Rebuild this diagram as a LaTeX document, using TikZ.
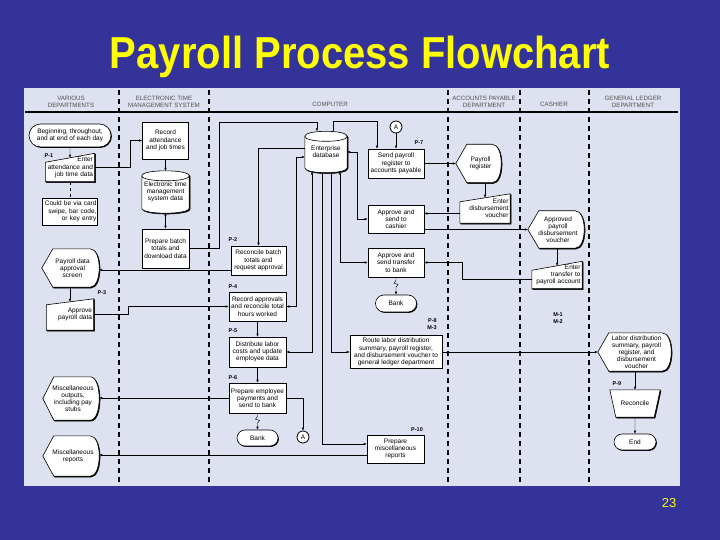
\documentclass[tikz,border=0pt]{standalone}
\usepackage{graphicx}
\usepackage{fontspec}
\setmainfont{Liberation Sans}
\usetikzlibrary{arrows.meta,shapes.misc,shadows,calc}

\pgfdeclarelayer{panel}
\pgfdeclarelayer{outline}
\pgfsetlayers{panel,outline,main}

\definecolor{slideblue}{RGB}{51,51,153}
\definecolor{panelgray}{RGB}{222,226,240}
\definecolor{hdrgray}{RGB}{80,80,80}
\definecolor{titleyellow}{RGB}{255,255,0}

\newcommand\boxfont{\fontsize{6.5}{7.2}\selectfont}
\newcommand\hdrfont{\fontsize{6.2}{7}\selectfont}
\newcommand\tagfont{\fontsize{5.5}{7}\selectfont\bfseries}

\tikzset{
  lane/.style={line width=1.3pt, dash pattern=on 5pt off 4pt},
  blackshadow/.style={drop shadow={shadow xshift=0.9pt, shadow yshift=-0.9pt, fill=black, opacity=1}},
  proc/.style={draw, fill=white, line width=0.6pt, blackshadow, align=center, font=\boxfont, inner sep=1pt},
  term/.style={proc, rounded rectangle},
  shapetext/.style={align=center, font=\boxfont, inner sep=1pt},
  manin/.style={shapetext, align=right},
  outl/.style={fill=white, line width=0.6pt, preaction={fill=black, draw=black, transform canvas={shift={(0.9pt,-0.9pt)}}}},
  flow/.style={line width=0.4pt, -{Latex[length=3pt,width=2.4pt]}},
  twoway/.style={line width=0.4pt, {Latex[length=3pt,width=2.4pt]}-{Latex[length=3pt,width=2.4pt]}},
  tag/.style={font=\tagfont, inner sep=0pt},
  hdr/.style={font=\hdrfont, text=hdrgray, align=center},
  conn/.style={circle, draw, fill=white, line width=0.8pt, font=\boxfont, inner sep=0pt, minimum size=12pt},
}

% outlines drawn under the text of a node
\newcommand\dispframe[1]{\begin{pgfonlayer}{outline}
  \draw[outl] ([xshift=-4pt]#1.west) -- ([xshift=7pt]#1.north west) -- ([xshift=-9pt]#1.north east)
    .. controls ([xshift=3pt]#1.north east) and ([xshift=3pt]#1.south east) .. ([xshift=-9pt]#1.south east)
    -- ([xshift=7pt]#1.south west) -- cycle;
\end{pgfonlayer}}
\newcommand\maninframe[2]{\begin{pgfonlayer}{outline}
  \draw[outl] (#1.south west) -- ([yshift=-#2]#1.north west) -- (#1.north east) -- (#1.south east) -- cycle;
\end{pgfonlayer}}
\newcommand\trapframe[1]{\begin{pgfonlayer}{outline}
  \draw[outl] (#1.north west) -- (#1.north east) -- ([xshift=-6pt]#1.south east) -- ([xshift=6pt]#1.south west) -- cycle;
\end{pgfonlayer}}
\newcommand\cylframe[1]{\begin{pgfonlayer}{outline}
  \draw[outl] ([yshift=-5pt]#1.north west) -- ([yshift=5pt]#1.south west)
    .. controls ([yshift=-1.67pt]#1.south west) and ([yshift=-1.67pt]#1.south east) .. ([yshift=5pt]#1.south east)
    -- ([yshift=-5pt]#1.north east)
    .. controls ([yshift=1.67pt]#1.north east) and ([yshift=1.67pt]#1.north west) .. ([yshift=-5pt]#1.north west) -- cycle;
  \draw[line width=0.6pt] ([yshift=-5pt]#1.north west)
    .. controls ([yshift=-11.67pt]#1.north west) and ([yshift=-11.67pt]#1.north east) .. ([yshift=-5pt]#1.north east);
\end{pgfonlayer}}

\begin{document}
\begin{tikzpicture}[x=1pt, y=-1pt]
  %%%%% START %%%%%
  \useasboundingbox (0,0) rectangle (720,540);
  \begin{pgfonlayer}{panel}
    \fill[slideblue] (0,0) rectangle (720,540);
    \fill[panelgray] (24,88) rectangle (680,486);
  \end{pgfonlayer}

  \node[font=\fontsize{40}{40}\selectfont\bfseries, text=titleyellow] (title) at (360,57) {\scalebox{1}[1.12]{Payroll Process Flowchart}};
  \node[font=\fontsize{13}{13}\selectfont, text=titleyellow] (pageno) at (669,503) {23};

  % lanes
  \foreach \lx in {119,209,448,520,589}
    \draw[lane] (\lx,90) -- (\lx,484);
  \draw[line width=1.1pt] (25,112) -- (678,112);
  \node[hdr] (hvar) at (71,102) {VARIOUS\\DEPARTMENTS};
  \node[hdr] (hetm) at (164,102) {ELECTRONIC TIME\\MANAGEMENT SYSTEM};
  \node[hdr] (hcomp) at (330,104) {COMPUTER};
  \node[hdr] (hap) at (484,102) {ACCOUNTS PAYABLE\\DEPARTMENT};
  \node[hdr] (hcash) at (554,104) {CASHIER};
  \node[hdr] (hgl) at (633,102) {GENERAL LEDGER\\DEPARTMENT};

  % various departments
  \node[term, minimum width=84pt, minimum height=23pt] (start) at (70,135.5) {Beginning, throughout,\\and at end of each day};
  \node[manin, text width=46pt, minimum width=49pt, minimum height=28pt] (enter) at (70,167.5) {Enter\\attendance and\\job time data};
  \node[tag] (p1) at (49,156) {P-1};
  \node[draw, fill=white, line width=0.5pt, align=right, font=\boxfont, text width=53pt, inner sep=1pt, minimum width=55pt, minimum height=27pt] (note) at (70,211.5) {Could be via card\\swipe, bar code,\\or key entry};
  \draw[line width=1.2pt] (note.north west) -- (note.south west);
  \node[shapetext, minimum width=53pt, minimum height=38pt] (screen) at (72.5,268) {Payroll data\\approval\\screen};
  \node[manin, text width=44pt, minimum width=47pt, minimum height=31pt] (approve) at (70,314.5) {Approve\\payroll data};
  \node[tag] (p3) at (102,293) {P-3};
  \node[shapetext, minimum width=52pt, minimum height=43pt] (outputs) at (73,398.5) {Miscellaneous\\outputs,\\including pay\\stubs};
  \node[shapetext, minimum width=52pt, minimum height=40pt] (reports) at (73,456) {Miscellaneous\\reports};

  % electronic time management system
  \node[proc, minimum width=46pt, minimum height=37pt] (rec) at (165.5,140.5) {Record\\attendance\\and job times};
  \node[shapetext, minimum width=47pt, minimum height=42pt] (etms) at (165.5,192) {Electronic time\\management\\system data};
  \node[proc, minimum width=47pt, minimum height=39pt] (batch) at (165.5,248.5) {Prepare batch\\totals and\\download data};

  % computer
  \node[shapetext, minimum width=42pt, minimum height=41pt] (db) at (326,152) {Enterprise\\database};
  \node[conn] (conna) at (396,127) {A};
  \node[proc, minimum width=56pt, minimum height=29pt] (sendpay) at (396,163.5) {Send payroll\\register to\\accounts payable};
  \node[tag] (p7) at (419,143) {P-7};
  \node[proc, minimum width=56pt, minimum height=28pt] (tocash) at (396,219) {Approve and\\send to\\cashier};
  \node[proc, minimum width=56pt, minimum height=29pt] (tobank) at (396,262.5) {Approve and\\send transfer\\to bank};
  \node[term, minimum width=43pt, minimum height=17pt] (bank1) at (396,303.5) {Bank};
  \node[proc, minimum width=55pt, minimum height=29pt] (reconb) at (258.5,260.5) {Reconcile batch\\totals and\\request approval};
  \node[tag] (p2) at (233,240) {P-2};
  \node[proc, minimum width=57pt, minimum height=29pt] (recapp) at (257.5,306.5) {Record approvals\\and reconcile total\\hours worked};
  \node[tag] (p4) at (233,287) {P-4};
  \node[proc, minimum width=57pt, minimum height=30pt] (distrib) at (257.5,352) {Distribute labor\\costs and update\\employee data};
  \node[tag] (p5) at (233,331) {P-5};
  \node[proc, minimum width=57pt, minimum height=30pt] (emppay) at (257.5,398) {Prepare employee\\payments and\\send to bank};
  \node[tag] (p6) at (233,378) {P-6};
  \node[term, minimum width=43pt, minimum height=16pt] (bank2) at (257.5,438) {Bank};
  \node[conn] (connb) at (303,437) {A};
  \node[proc, minimum width=92pt, minimum height=33pt] (route) at (396,352) {Route labor distribution\\summary, payroll register,\\and disbursement voucher to\\general ledger department};
  \node[tag, align=right] (p8) at (432,324.5) {P-8\\M-3};
  \node[proc, minimum width=57pt, minimum height=28pt] (miscrep) at (395.5,449) {Prepare\\miscellaneous\\reports};
  \node[tag] (p10) at (417,430) {P-10};

  % accounts payable, cashier, general ledger
  \node[shapetext, minimum width=41pt, minimum height=38pt] (preg) at (480.5,163.5) {Payroll\\register};
  \node[manin, text width=47pt, minimum width=50pt, minimum height=29pt] (disb) at (485,208.5) {Enter\\disbursement\\voucher};
  \node[shapetext, minimum width=52pt, minimum height=37pt] (apv) at (558,229.5) {Approved\\payroll\\disbursement\\voucher};
  \node[manin, text width=47pt, minimum width=50pt, minimum height=27pt] (etrans) at (557,275) {Enter\\transfer to\\payroll account};
  \node[tag, align=center] (m12) at (558,318.5) {M-1\\M-2};
  \node[shapetext, font=\fontsize{6.5}{7}\selectfont, minimum width=69pt, minimum height=38pt] (gl) at (636.5,352) {Labor distribution\\summary, payroll\\register, and\\disbursement\\voucher};
  \node[tag] (p9) at (617,384) {P-9};
  \node[shapetext, minimum width=50pt, minimum height=27pt] (recon) at (635,403.5) {Reconcile};
  \node[term, minimum width=44pt, minimum height=16pt] (finish) at (635,442) {End};

  \dispframe{screen} \dispframe{outputs} \dispframe{reports}
  \dispframe{preg} \dispframe{apv} \dispframe{gl}
  \maninframe{enter}{9pt} \maninframe{approve}{6pt}
  \maninframe{disb}{8pt} \maninframe{etrans}{9pt}
  \cylframe{etms} \cylframe{db}
  \trapframe{recon}

  % connectors
  \draw[flow] (start) -- ([yshift=-4.5pt]enter.north);
  \draw[dashed, line width=0.4pt] (enter) -- (note);
  \draw[flow] (enter.east) -- ++(35,0) |- (rec.west);
  \draw[flow] (rec) -- (etms);
  \draw[twoway] (etms) -- (batch);
  \draw[flow] (batch.east) -- ++(30,0) |- ([xshift=-9pt,yshift=9pt]db.north) -- ([xshift=-9pt]db.north);
  \draw[flow] ([xshift=7pt]db.north) -- ++(0,-10) -| ([xshift=-19pt]sendpay.north);
  \draw[flow] (conna) -- (sendpay);
  \draw[flow] (sendpay.east) -- ([xshift=-4pt]preg.west);
  \draw[flow] (disb.north |- preg.south) -- ([yshift=-4pt]disb.north);
  \coordinate (dv) at ($(disb.west)+(0,5)$);
  \draw[flow] (dv) -- (dv -| tocash.east);
  \draw[flow] (apv.west -| tocash.east) -- ([xshift=-4pt]apv.west);
  \draw[flow] (etrans.north |- apv.south) -- ([yshift=-4.5pt]etrans.north);
  \coordinate (et) at ($(etrans.west)+(0,4.5)$);
  \draw[flow] (et) -- ++(-70,0) |- (tobank.east);
  \draw[flow] (tobank.south) -- ++(0,3) -- ++(-2,3) -- ++(4,1) -- ++(-2,3) -- (bank1.north);
  \draw[flow] ([yshift=4pt]db.west) -| (reconb.north);
  \coordinate (rb) at ($(reconb.west)+(0,9.5)$);
  \draw[flow] (rb) -- (rb -| screen.east);
  \draw[flow] (approve.north |- screen.south) -- ([yshift=-3pt]approve.north);
  \draw[flow] (approve.east) -- ++(34,0) |- (recapp.west);
  \draw[twoway] (recapp.east) -- ++(10,0) |- ([yshift=-5pt]db.west);
  \draw[twoway] (distrib.east) -| ([xshift=-14pt,yshift=1pt]db.south);
  \draw[flow] ([xshift=-4pt]db.south) |- ($(miscrep.west)+(0,-5)$);
  \draw[flow] ([xshift=5pt]db.south) |- (route.west);
  \draw[twoway] ([xshift=14pt,yshift=1pt]db.south) |- (tobank.west);
  \draw[twoway] (db.east) -- ++(10,0) |- (tocash.west);
  \draw[flow] (recapp) -- (distrib);
  \draw[flow] (distrib) -- (emppay);
  \draw[flow] (emppay.east) -| (connb.north);
  \draw[flow] (emppay.south) -- ++(0,3) -- ++(-2,3) -- ++(4,1) -- ++(-2,3) -- (bank2.north);
  \draw[flow] (emppay.west) -- (emppay.west -| outputs.east);
  \coordinate (mr) at ($(miscrep.west)+(0,6)$);
  \draw[flow] (mr) -- (mr -| reports.east);
  \draw[flow] (route.east) -- ([xshift=-4pt]gl.west);
  \draw[flow] (recon.north |- gl.south) -- (recon.north);
  \draw[flow] (recon) -- (finish);
  %%%%% END %%%%%
\end{tikzpicture}
\end{document}
